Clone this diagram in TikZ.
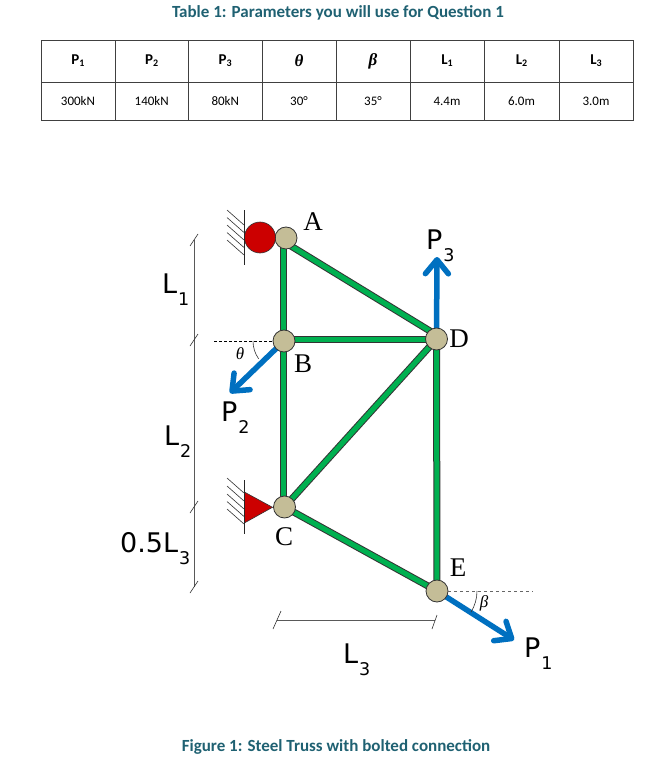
\documentclass[tikz,border=0pt]{standalone}
\usepackage{fontspec}
\setmainfont{Carlito}
\newfontfamily\jointfont{Liberation Serif}
\newfontfamily\loadfont{DejaVu Sans}
\usetikzlibrary{arrows.meta,backgrounds}
\definecolor{captionteal}{HTML}{1F6172}
\definecolor{trussgreen}{HTML}{00B050}
\definecolor{jointtan}{HTML}{C4BD97}
\definecolor{loadblue}{HTML}{0070C0}
\definecolor{supportred}{HTML}{CC0000}
% Label with a lowered index
\newcommand{\lab}[2]{\fontsize{27}{27}\loadfont #1\kern1pt\raisebox{-12pt}{\fontsize{17.5}{17.5}\selectfont #2}}
\newcommand{\cellsub}[2]{#1\raisebox{-2pt}{\fontsize{10}{10}\selectfont #2}}
\tikzset{
  headcell/.style={draw=black!75,line width=0.8pt,minimum height=42pt,inner sep=0pt,font=\fontsize{15}{15}\selectfont\bfseries},
  valcell/.style={draw=black!75,line width=0.8pt,minimum height=38pt,inner sep=0pt,font=\fontsize{13}{13}\selectfont},
  caption/.style={text=captionteal,inner sep=0pt,font=\fontsize{17}{17}\selectfont\bfseries},
  joint/.style={circle,draw=black!80,fill=jointtan,line width=0.8pt,minimum size=22pt,inner sep=0pt},
  member/.style={draw=black!80,double=trussgreen,double distance=5pt,line width=1pt},
  force/.style={draw=loadblue,line width=5.5pt,-{Straight Barb[length=14pt,width=23pt,round]}},
  wall/.style={draw=black!85,line width=0.9pt},
  dimline/.style={draw=black!65,line width=0.8pt},
  jointlabel/.style={inner sep=0pt,font=\fontsize{27}{27}\jointfont},
  anglelabel/.style={inner sep=0pt,font=\fontsize{17}{17}\jointfont\itshape},
  loadlabel/.style={inner sep=0pt,anchor=base west}
}
\begin{document}
\begin{tikzpicture}[x=1pt,y=-1pt]
\useasboundingbox (0,0) rectangle (651,762);

% Captions
\node[caption] (tabcap) at (338,13) {Table 1: Parameters you will use for Question 1};
\node[caption] (figcap) at (336,747) {Figure 1: Steel Truss with bolted connection};

% Table cells
\node[headcell,minimum width=74pt] (headPone) at (78,61) {\cellsub{P}{1}};
\node[headcell,minimum width=73.5pt] (headPtwo) at (151.75,61) {\cellsub{P}{2}};
\node[headcell,minimum width=73.5pt] (headPthree) at (225.25,61) {\cellsub{P}{3}};
\node[headcell,minimum width=74pt] (headtheta) at (299,61) {\fontsize{17}{17}\jointfont\bfseries\itshape θ};
\node[headcell,minimum width=74pt] (headbeta) at (373,61) {\fontsize{17}{17}\jointfont\bfseries\itshape β};
\node[headcell,minimum width=74pt] (headLone) at (447,61) {\cellsub{L}{1}};
\node[headcell,minimum width=75pt] (headLtwo) at (521.5,61) {\cellsub{L}{2}};
\node[headcell,minimum width=74pt] (headLthree) at (596,61) {\cellsub{L}{3}};
\node[valcell,minimum width=74pt] (valPone) at (78,101) {300kN};
\node[valcell,minimum width=73.5pt] (valPtwo) at (151.75,101) {140kN};
\node[valcell,minimum width=73.5pt] (valPthree) at (225.25,101) {80kN};
\node[valcell,minimum width=74pt] (valtheta) at (299,101) {30°};
\node[valcell,minimum width=74pt] (valbeta) at (373,101) {35°};
\node[valcell,minimum width=74pt] (valLone) at (447,101) {4.4m};
\node[valcell,minimum width=75pt] (valLtwo) at (521.5,101) {6.0m};
\node[valcell,minimum width=74pt] (valLthree) at (596,101) {3.0m};

% Joints
\node[joint] (A) at (286,238) {};
\node[joint] (B) at (284,341) {};
\node[joint] (C) at (284.5,507) {};
\node[joint] (D) at (436.5,339) {};
\node[joint] (E) at (437,591) {};

% Supports
\node[circle,draw=black!80,fill=supportred,line width=0.6pt,minimum size=31pt,inner sep=0pt] (roller) at (260,237.5) {};
\draw[fill=supportred,draw=black!80,line width=0.6pt] (244.3,492) -- (272.5,507.3) -- (244.3,523) -- cycle;
\draw[wall] (244,210) -- (244,265);
\draw[wall] (244,480) -- (244,534);
\foreach \y in {210,217.5,225,232.5,240}{
  \draw[black!80,line width=0.6pt] (227,\y) -- (244,\y+15);
}
\foreach \y in {478,486,494,501.5,509}{
  \draw[black!80,line width=0.6pt] (227,\y) -- (244,\y+15);
}

% Load tips
\coordinate (tipone) at (514,640);
\coordinate (tiptwo) at (230,393);
\coordinate (tipthree) at (437,257);

% Members and loads
\begin{scope}[on background layer]
  \draw[member] ([xshift=-3pt]A.center) -- ([xshift=-1pt]B.center);
  \draw[member] ([xshift=-1pt]B.center) -- ([xshift=-1.5pt]C.center);
  \draw[member] ([yshift=-5pt]A.center) -- ([yshift=4pt]D.center);
  \draw[member] ([yshift=2pt]B.center) -- (D.center);
  \draw[member] (C.center) -- (D.center);
  \draw[member] (C.center) -- (E.center);
  \draw[member] (D.center) -- (E.center);
  \draw[force] (E.center) -- (tipone);
  \draw[force] (B.center) -- (tiptwo);
  \draw[force] (D.center) -- (tipthree);
\end{scope}

% Reference lines and angles
\draw[black,densely dashed,line width=0.5pt] (214,341) -- (B);
\draw[black!60,dashed,line width=1pt] (E) -- (533,591);
\draw[black!80,line width=0.6pt] ([xshift=-31pt]B.center) arc[start angle=180,end angle=215,radius=31pt];
\draw[black!80,line width=0.6pt] ([xshift=40pt]E.center) arc[start angle=0,end angle=-32,radius=40pt];
\node[anglelabel] (theta) at (240,354) {θ};
\node[anglelabel] (beta) at (484,603) {β};

% Dimension lines
\draw[dimline] (194,240) -- (194,587);
\draw[dimline] (277,620) -- (435,620);
\foreach \y in {240,340,507,587}{
  \draw[black!80,line width=0.6pt] (190,\y+6) -- (198,\y-6);
}
\draw[black!80,line width=0.6pt] (273,629) -- (281,611);
\draw[black!80,line width=0.6pt] (432,629) -- (437,615);

% Labels for joints
\node[jointlabel] (labA) at (313,222) {A};
\node[jointlabel] (labB) at (303,364) {B};
\node[jointlabel] (labC) at (284,537) {C};
\node[jointlabel] (labD) at (459,339) {D};
\node[jointlabel] (labE) at (458,568) {E};

% Labels for loads and lengths
\node[loadlabel] (labP1) at (524,657) {\lab{P}{1}};
\node[loadlabel] (labP2) at (221,421) {\lab{P}{2}};
\node[loadlabel] (labP3) at (426,249) {\lab{P}{3}};
\node[loadlabel] (labL1) at (162,293) {\lab{L}{1}};
\node[loadlabel] (labL2) at (164,445) {\lab{L}{2}};
\node[loadlabel] (labL3) at (343,663) {\lab{L}{3}};
\node[loadlabel] (labhalf) at (120,552) {\lab{0.5L}{3}};

\end{tikzpicture}
\end{document}
